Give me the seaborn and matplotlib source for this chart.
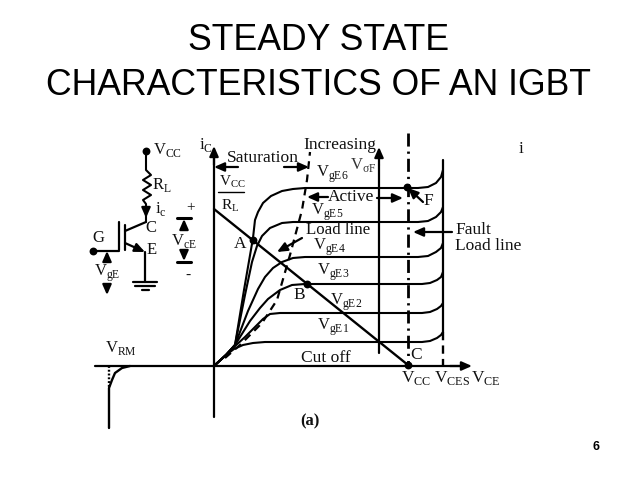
import matplotlib
matplotlib.use("Agg")
import matplotlib.pyplot as plt
import pandas as pd
import seaborn as sns

curve_e1_x = [215, 226, 234, 243, 253, 265, 300, 325, 422, 430, 437, 441, 443]
curve_e1_y = [365, 355, 349, 345, 343, 342, 342, 342, 342, 341, 338, 335, 332]
curve_e2_x = [215, 226, 234, 245, 255, 263, 270, 280, 300, 325, 422, 430, 437, 441, 443]
curve_e2_y = [365, 355, 347, 337, 327, 319, 314, 313, 313, 313, 313, 312, 309, 306, 303]
curve_e3_x = [215, 226, 235, 250, 260, 268, 280, 292, 305, 325, 422, 430, 437, 441, 443]
curve_e3_y = [365, 355, 345, 321, 308, 299, 290, 285, 284, 284, 284, 283, 280, 277, 272]
curve_e4_x = [215, 226, 235, 248, 258, 265, 273, 282, 293, 305, 418, 428, 436, 441, 443]
curve_e4_y = [365, 355, 345, 311, 289, 277, 268, 262, 258, 257, 257, 256, 252, 248, 243]
curve_e5_x = [215, 226, 235, 245, 252, 257, 262, 270, 282, 293, 305, 418, 428, 436, 441, 443]
curve_e5_y = [365, 355, 345, 295, 262, 246, 236, 228, 223, 222, 222, 222, 221, 217, 212, 207]
curve_e6_x = [215, 226, 235, 244, 253, 255, 258, 263, 271, 282, 293, 305, 418, 428, 436, 441, 443]
curve_e6_y = [365, 355, 345, 290, 238, 220, 212, 203, 196, 191, 189, 188, 188, 187, 183, 177, 170]
curves = [(curve_e1_x, curve_e1_y), (curve_e2_x, curve_e2_y), (curve_e3_x, curve_e3_y),
          (curve_e4_x, curve_e4_y), (curve_e5_x, curve_e5_y), (curve_e6_x, curve_e6_y)]

active_x = [225, 240, 262, 277, 290, 302, 307, 310]
active_y = [358, 345, 323, 300, 255, 210, 180, 152]

load_x = [214, 408]
load_y = [209, 365]

reverse_x = [130, 122, 115, 112, 109, 109]
reverse_y = [366, 368, 373, 380, 388, 428]

resistor_x = [146, 146, 151, 143, 151, 143, 151, 143, 146, 146]
resistor_y = [151, 170, 175, 180, 185, 190, 195, 200, 204, 222]

dots_x = [253, 307, 407, 408, 146, 93]
dots_y = [240, 284, 187, 365, 151, 251]

sns.set_theme(style="white")
plt.rcParams["font.family"] = ["Liberation Serif", "DejaVu Serif"]
plt.rcParams["mathtext.fontset"] = "custom"
plt.rcParams["mathtext.rm"] = "Liberation Serif"

fig, ax = plt.subplots(figsize=(6.38, 4.78), dpi=100)
ax.set_position([0, 0, 1, 1])


def draw(xs, ys, lw=1.6, ls="-"):
    df = pd.DataFrame({"x": xs, "y": ys})
    sns.lineplot(data=df, x="x", y="y", ax=ax, color="black", lw=lw, ls=ls,
                 sort=False, estimator=None, errorbar=None)


def arrow(x0, y0, x1, y1, lw=1.6):
    ax.annotate("", xy=(x1, y1), xytext=(x0, y0),
                arrowprops=dict(arrowstyle="-|>,head_length=0.5,head_width=0.22", color="black",
                                lw=lw, shrinkA=0, shrinkB=0))


def label(x, y, s, size=12.5, **kw):
    ax.text(x, y, s, fontsize=size, color="#111111", va="center", ha="left", **kw)


# output characteristics
for cx, cy in curves:
    draw(cx, cy, lw=1.5)
draw(active_x, active_y, lw=1.6, ls=(0, (3.5, 2.5)))
draw(load_x, load_y, lw=1.7)
draw(reverse_x, reverse_y, lw=1.7)
draw([109, 109], [366, 388], lw=1.7, ls=(0, (0.8, 0.8)))

# axes of the diagram
draw([214, 214], [150, 417])
draw([95, 466], [366, 366])
arrow(214, 165, 214, 146)
arrow(450, 366, 472, 366)
draw([379, 379], [165, 353])
arrow(379, 165, 379, 147)
draw([408, 408], [133, 365], lw=2.0, ls=(0, (4.7, 1.8, 0.8, 1.8)))
draw([443, 443], [160, 332])
draw([443, 443], [332, 365], lw=1.7, ls=(0, (3.5, 2.2)))

# small arrows
arrow(238, 167, 214, 167)
arrow(284, 167, 309, 167)
arrow(328, 197, 307, 197)
arrow(377, 198, 403, 198)
arrow(423, 202, 408, 188)
arrow(452, 232, 413, 232)
arrow(302, 238, 277, 252)

# circuit
draw(resistor_x, resistor_y, lw=1.5)
arrow(146, 206, 146, 218)
draw([146, 125], [222, 231])
draw([125, 125], [225, 250])
draw([119, 119], [222, 250])
draw([93, 119], [251, 251])
arrow(125, 243, 145, 252)
draw([145, 145], [252, 282])
draw([133, 157], [282, 282])
draw([135, 155], [286, 286])
draw([142, 149], [290, 290])
arrow(107, 262, 107, 251)
arrow(107, 285, 107, 295)
draw([177, 191], [218, 218], lw=2.2)
draw([177, 191], [262, 262], lw=2.2)
arrow(184, 229, 184, 219)
arrow(184, 251, 184, 261)
draw([218, 244], [192, 192], lw=1.0)

sns.scatterplot(x=dots_x, y=dots_y, ax=ax, color="black", s=32, linewidth=0, zorder=5)

# text of the diagram
label(153, 150, r"V$_{\mathrm{CC}}$", 12)
label(152, 185, r"R$_{\mathrm{L}}$", 12)
label(155, 209, r"i$_{\mathrm{c}}$", 12)
label(145, 228, "C", 12)
label(147, 250, "E", 12)
label(92, 238, "G", 12)
label(94, 273, r"V$_{\mathrm{gE}}$", 12)
label(171, 241, r"V$_{\mathrm{cE}}$", 12)
label(186, 208, "+", 11)
label(185, 275, "-", 11)
label(199, 145, r"i$_{\mathrm{C}}$", 12)
label(219, 182, r"V$_{\mathrm{CC}}$", 11)
label(221, 206, r"R$_{\mathrm{L}}$", 11)
label(227, 158, "Saturation", 12.6)
label(303, 145, "Increasing", 12.6)
label(350, 165, r"V$_{\mathrm{\sigma F}}$", 12, alpha=0.85)
label(316, 174, r"V$_{\mathrm{gE6}}$", 12)
label(311, 212, r"V$_{\mathrm{gE5}}$", 12)
label(313, 247, r"V$_{\mathrm{gE4}}$", 12)
label(317, 272, r"V$_{\mathrm{gE3}}$", 12)
label(330, 302, r"V$_{\mathrm{gE2}}$", 12)
label(317, 327, r"V$_{\mathrm{gE1}}$", 12)
label(328, 197, "Active", 12.5)
label(423, 201, "F", 12.5)
label(306, 230, "Load line", 12.2)
label(455, 230, "Fault", 12.5)
label(455, 246, "Load line", 12.5)
label(234, 244, "A", 12.5)
label(293, 295, "B", 12.5)
label(301, 358, "Cut off", 12.6)
label(410, 355, "C", 12.5)
label(401, 378, r"V$_{\mathrm{CC}}$", 12.5)
label(434, 378, r"V$_{\mathrm{CES}}$", 12.5)
label(471, 378, r"V$_{\mathrm{CE}}$", 12.5)
label(105, 348, r"V$_{\mathrm{RM}}$", 12)
label(300, 421, "(a)", 12, fontweight="bold")
label(519, 149, "i", 12.5)

# slide text
for y, s in [(40, "STEADY STATE"), (85, "CHARACTERISTICS OF AN IGBT")]:
    ax.text(319, y, s, family="Liberation Sans", fontsize=25.7, color="black",
            ha="center", va="center")
ax.text(596, 447, "6", family="Liberation Sans", fontsize=9, fontweight="bold",
        color="black", ha="center", va="center")

ax.set_xlim(0, 638)
ax.set_ylim(478, 0)
ax.set_xlabel("")
ax.set_ylabel("")
ax.axis("off")

fig.savefig("out.png", dpi=100, facecolor="white")
